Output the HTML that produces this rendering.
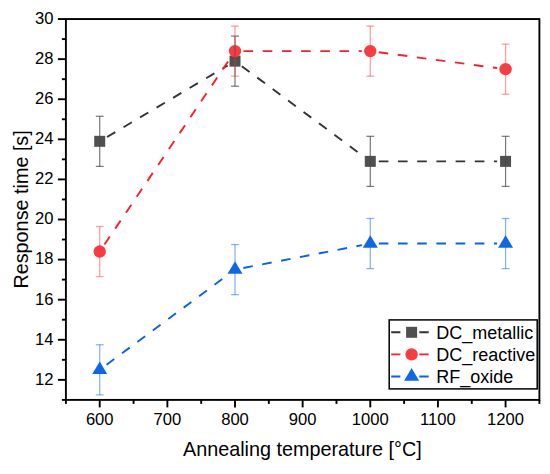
<!DOCTYPE html>
<html><head><meta charset="utf-8"><style>html,body{margin:0;padding:0;background:#fff;}svg{display:block;}</style></head>
<body><svg width="550" height="474" viewBox="0 0 550 474">
<rect width="550" height="474" fill="#fff"/>
<line x1="107.03" y1="136.99" x2="227.69" y2="65.48" stroke="#333333" stroke-width="1.9" stroke-dasharray="9.6 9.6"/>
<line x1="241.84" y1="66.20" x2="363.46" y2="156.31" stroke="#333333" stroke-width="1.9" stroke-dasharray="9.6 9.6"/>
<line x1="378.79" y1="161.37" x2="497.08" y2="161.37" stroke="#333333" stroke-width="1.9" stroke-dasharray="9.6 9.6"/>
<line x1="104.48" y1="244.52" x2="230.25" y2="58.17" stroke="#fa1e2e" stroke-width="1.9" stroke-dasharray="9.6 9.6"/>
<line x1="243.51" y1="51.12" x2="361.79" y2="51.12" stroke="#fa1e2e" stroke-width="1.9" stroke-dasharray="9.6 9.6"/>
<line x1="378.72" y1="52.25" x2="497.15" y2="68.04" stroke="#fa1e2e" stroke-width="1.9" stroke-dasharray="9.6 9.6"/>
<line x1="106.55" y1="364.77" x2="228.18" y2="274.67" stroke="#0862e2" stroke-width="1.9" stroke-dasharray="9.6 9.6"/>
<line x1="243.35" y1="268.00" x2="361.95" y2="245.16" stroke="#0862e2" stroke-width="1.9" stroke-dasharray="9.6 9.6"/>
<line x1="378.79" y1="243.55" x2="497.08" y2="243.55" stroke="#0862e2" stroke-width="1.9" stroke-dasharray="9.6 9.6"/>
<rect x="94.22" y="135.82" width="11" height="11" fill="#505050"/>
<rect x="229.51" y="55.64" width="11" height="11" fill="#505050"/>
<rect x="364.79" y="155.87" width="11" height="11" fill="#505050"/>
<rect x="500.08" y="155.87" width="11" height="11" fill="#505050"/>
<circle cx="99.72" cy="251.57" r="6.2" fill="#f83c42"/>
<circle cx="235.01" cy="51.12" r="6.2" fill="#f83c42"/>
<circle cx="370.29" cy="51.12" r="6.2" fill="#f83c42"/>
<circle cx="505.58" cy="69.16" r="6.2" fill="#f83c42"/>
<path d="M99.72 361.43L107.22 374.03L92.22 374.03Z" fill="#0c68e8"/>
<path d="M235.01 261.21L242.51 273.81L227.51 273.81Z" fill="#0c68e8"/>
<path d="M370.29 235.15L377.79 247.75L362.79 247.75Z" fill="#0c68e8"/>
<path d="M505.58 235.15L513.08 247.75L498.08 247.75Z" fill="#0c68e8"/>
<g stroke="#4a4a4a" stroke-width="1.25" fill="none" stroke-opacity="0.72"><path d="M99.72 116.27V166.38"/><path d="M95.82 116.27H103.62"/><path d="M95.82 166.38H103.62"/></g>
<g stroke="#4a4a4a" stroke-width="1.25" fill="none" stroke-opacity="0.72"><path d="M235.01 36.09V86.20"/><path d="M231.11 36.09H238.91"/><path d="M231.11 86.20H238.91"/></g>
<g stroke="#4a4a4a" stroke-width="1.25" fill="none" stroke-opacity="0.72"><path d="M370.29 136.31V186.42"/><path d="M366.39 136.31H374.19"/><path d="M366.39 186.42H374.19"/></g>
<g stroke="#4a4a4a" stroke-width="1.25" fill="none" stroke-opacity="0.72"><path d="M505.58 136.31V186.42"/><path d="M501.68 136.31H509.48"/><path d="M501.68 186.42H509.48"/></g>
<g stroke="#f93c40" stroke-width="1.25" fill="none" stroke-opacity="0.5"><path d="M99.72 226.51V276.62"/><path d="M95.82 226.51H103.62"/><path d="M95.82 276.62H103.62"/></g>
<g stroke="#f93c40" stroke-width="1.25" fill="none" stroke-opacity="0.5"><path d="M235.01 26.07V76.18"/><path d="M231.11 26.07H238.91"/><path d="M231.11 76.18H238.91"/></g>
<g stroke="#f93c40" stroke-width="1.25" fill="none" stroke-opacity="0.5"><path d="M370.29 26.07V76.18"/><path d="M366.39 26.07H374.19"/><path d="M366.39 76.18H374.19"/></g>
<g stroke="#f93c40" stroke-width="1.25" fill="none" stroke-opacity="0.5"><path d="M505.58 44.11V94.22"/><path d="M501.68 44.11H509.48"/><path d="M501.68 94.22H509.48"/></g>
<g stroke="#0d66e4" stroke-width="1.25" fill="none" stroke-opacity="0.5"><path d="M99.72 344.78V394.89"/><path d="M95.82 344.78H103.62"/><path d="M95.82 394.89H103.62"/></g>
<g stroke="#0d66e4" stroke-width="1.25" fill="none" stroke-opacity="0.5"><path d="M235.01 244.55V294.67"/><path d="M231.11 244.55H238.91"/><path d="M231.11 294.67H238.91"/></g>
<g stroke="#0d66e4" stroke-width="1.25" fill="none" stroke-opacity="0.5"><path d="M370.29 218.50V268.61"/><path d="M366.39 218.50H374.19"/><path d="M366.39 268.61H374.19"/></g>
<g stroke="#0d66e4" stroke-width="1.25" fill="none" stroke-opacity="0.5"><path d="M505.58 218.50V268.61"/><path d="M501.68 218.50H509.48"/><path d="M501.68 268.61H509.48"/></g>
<g stroke="#000" stroke-width="1.9" fill="none">
<rect x="65.90" y="19.05" width="473.50" height="380.85"/>
<line x1="61.90" y1="399.90" x2="65.90" y2="399.90"/>
<line x1="57.90" y1="379.86" x2="65.90" y2="379.86"/>
<line x1="61.90" y1="359.81" x2="65.90" y2="359.81"/>
<line x1="57.90" y1="339.77" x2="65.90" y2="339.77"/>
<line x1="61.90" y1="319.72" x2="65.90" y2="319.72"/>
<line x1="57.90" y1="299.68" x2="65.90" y2="299.68"/>
<line x1="61.90" y1="279.63" x2="65.90" y2="279.63"/>
<line x1="57.90" y1="259.59" x2="65.90" y2="259.59"/>
<line x1="61.90" y1="239.54" x2="65.90" y2="239.54"/>
<line x1="57.90" y1="219.50" x2="65.90" y2="219.50"/>
<line x1="61.90" y1="199.45" x2="65.90" y2="199.45"/>
<line x1="57.90" y1="179.41" x2="65.90" y2="179.41"/>
<line x1="61.90" y1="159.36" x2="65.90" y2="159.36"/>
<line x1="57.90" y1="139.32" x2="65.90" y2="139.32"/>
<line x1="61.90" y1="119.27" x2="65.90" y2="119.27"/>
<line x1="57.90" y1="99.23" x2="65.90" y2="99.23"/>
<line x1="61.90" y1="79.18" x2="65.90" y2="79.18"/>
<line x1="57.90" y1="59.14" x2="65.90" y2="59.14"/>
<line x1="61.90" y1="39.09" x2="65.90" y2="39.09"/>
<line x1="57.90" y1="19.05" x2="65.90" y2="19.05"/>
<line x1="65.90" y1="399.90" x2="65.90" y2="403.90"/>
<line x1="99.72" y1="399.90" x2="99.72" y2="407.40"/>
<line x1="133.54" y1="399.90" x2="133.54" y2="403.90"/>
<line x1="167.36" y1="399.90" x2="167.36" y2="407.40"/>
<line x1="201.19" y1="399.90" x2="201.19" y2="403.90"/>
<line x1="235.01" y1="399.90" x2="235.01" y2="407.40"/>
<line x1="268.83" y1="399.90" x2="268.83" y2="403.90"/>
<line x1="302.65" y1="399.90" x2="302.65" y2="407.40"/>
<line x1="336.47" y1="399.90" x2="336.47" y2="403.90"/>
<line x1="370.29" y1="399.90" x2="370.29" y2="407.40"/>
<line x1="404.11" y1="399.90" x2="404.11" y2="403.90"/>
<line x1="437.94" y1="399.90" x2="437.94" y2="407.40"/>
<line x1="471.76" y1="399.90" x2="471.76" y2="403.90"/>
<line x1="505.58" y1="399.90" x2="505.58" y2="407.40"/>
<line x1="539.40" y1="399.90" x2="539.40" y2="403.90"/>
</g>
<text x="53.4" y="384.76" font-family="Liberation Sans, sans-serif" font-size="16.6" text-anchor="end">12</text>
<text x="53.4" y="344.67" font-family="Liberation Sans, sans-serif" font-size="16.6" text-anchor="end">14</text>
<text x="53.4" y="304.58" font-family="Liberation Sans, sans-serif" font-size="16.6" text-anchor="end">16</text>
<text x="53.4" y="264.49" font-family="Liberation Sans, sans-serif" font-size="16.6" text-anchor="end">18</text>
<text x="53.4" y="224.40" font-family="Liberation Sans, sans-serif" font-size="16.6" text-anchor="end">20</text>
<text x="53.4" y="184.31" font-family="Liberation Sans, sans-serif" font-size="16.6" text-anchor="end">22</text>
<text x="53.4" y="144.22" font-family="Liberation Sans, sans-serif" font-size="16.6" text-anchor="end">24</text>
<text x="53.4" y="104.13" font-family="Liberation Sans, sans-serif" font-size="16.6" text-anchor="end">26</text>
<text x="53.4" y="64.04" font-family="Liberation Sans, sans-serif" font-size="16.6" text-anchor="end">28</text>
<text x="53.4" y="23.95" font-family="Liberation Sans, sans-serif" font-size="16.6" text-anchor="end">30</text>
<text x="99.72" y="425.4" font-family="Liberation Sans, sans-serif" font-size="16.6" text-anchor="middle">600</text>
<text x="167.36" y="425.4" font-family="Liberation Sans, sans-serif" font-size="16.6" text-anchor="middle">700</text>
<text x="235.01" y="425.4" font-family="Liberation Sans, sans-serif" font-size="16.6" text-anchor="middle">800</text>
<text x="302.65" y="425.4" font-family="Liberation Sans, sans-serif" font-size="16.6" text-anchor="middle">900</text>
<text x="370.29" y="425.4" font-family="Liberation Sans, sans-serif" font-size="16.6" text-anchor="middle">1000</text>
<text x="437.94" y="425.4" font-family="Liberation Sans, sans-serif" font-size="16.6" text-anchor="middle">1100</text>
<text x="505.58" y="425.4" font-family="Liberation Sans, sans-serif" font-size="16.6" text-anchor="middle">1200</text>
<text x="302.4" y="456.2" font-family="Liberation Sans, sans-serif" font-size="19.8" text-anchor="middle">Annealing temperature [°C]</text>
<text transform="translate(27.6 209.4) rotate(-90)" font-family="Liberation Sans, sans-serif" font-size="19.8" text-anchor="middle">Response time [s]</text>
<rect x="389.2" y="319.9" width="148" height="69" fill="#fff" stroke="#000" stroke-width="1.5"/>
<path d="M391.2 332.3H400.4M419.3 332.3H428.7" stroke="#333333" stroke-width="1.9"/>
<rect x="406.10" y="326.80" width="11" height="11" fill="#505050"/>
<text x="436.2" y="338.70" font-family="Liberation Sans, sans-serif" font-size="18">DC_metallic</text>
<path d="M391.2 354.4H400.4M419.3 354.4H428.7" stroke="#fa1e2e" stroke-width="1.9"/>
<circle cx="411.60" cy="354.40" r="6.2" fill="#f83c42"/>
<text x="436.2" y="360.80" font-family="Liberation Sans, sans-serif" font-size="18">DC_reactive</text>
<path d="M391.2 376.5H400.4M419.3 376.5H428.7" stroke="#0862e2" stroke-width="1.9"/>
<path d="M411.60 368.10L419.10 380.70L404.10 380.70Z" fill="#0c68e8"/>
<text x="436.2" y="382.90" font-family="Liberation Sans, sans-serif" font-size="18">RF_oxide</text>
</svg></body></html>
